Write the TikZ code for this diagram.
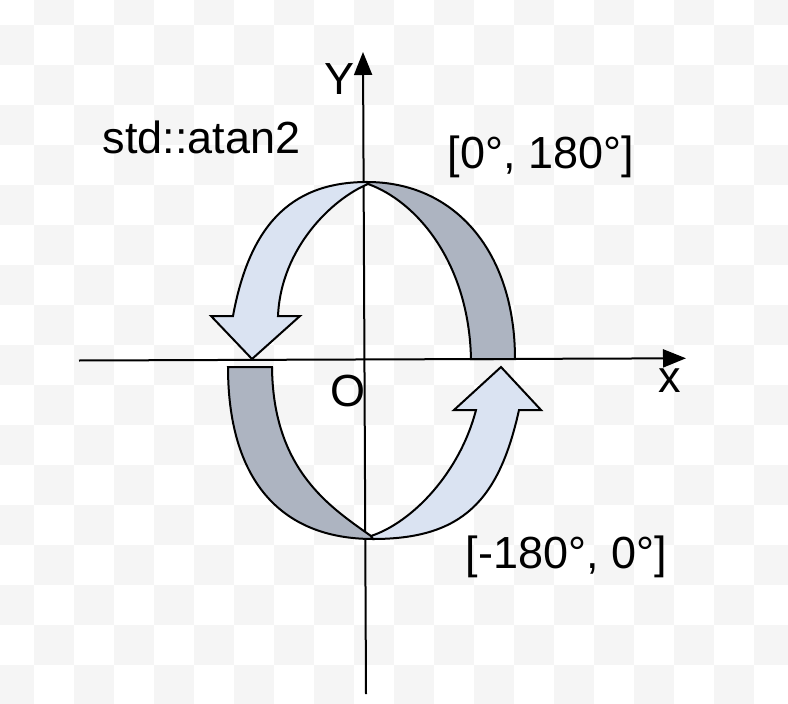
\documentclass[tikz,border=0pt]{standalone}
\usepackage{fontspec}
\setmainfont{Liberation Sans}
\usetikzlibrary{arrows.meta}
\definecolor{checker}{RGB}{245,245,245}
\definecolor{arrowblue}{RGB}{218,227,242}
\definecolor{bandgrey}{RGB}{173,180,193}
\tikzset{
	PixelGrid/.style={x=1pt, y=-1pt},
	Axis/.style={line width=2pt, -{Triangle[length=23pt, width=18pt]}},
	BlueArrow/.style={fill=arrowblue, draw=black, line width=2pt},
	GreyBand/.style={fill=bandgrey, draw=black, line width=2pt},
	Label/.style={inner sep=0pt, anchor=base, font=\fontsize{45}{53}\selectfont}
}

\begin{document}
\begin{tikzpicture}[PixelGrid]
		\useasboundingbox (0,0) rectangle (788,704);

		% Checkerboard background
		\begin{scope}
			\clip (0,0) rectangle (788,704);
			\foreach \r in {0,...,17}
				\foreach \c in {0,...,19}{
					\pgfmathtruncatemacro{\cellodd}{mod(\r+\c,2)}
					\ifnum\cellodd=1
						\fill[checker] ({34.3+40*(\c-1)},{25+40*(\r-1)}) rectangle +(40,40);
					\fi
				}
		\end{scope}

		% Coordinate axes
		\coordinate (xstart) at (79,360.5);
		\coordinate (xend) at (686,358.3);
		\coordinate (ystart) at (366,694);
		\coordinate (yend) at (363,52);
		\draw[Axis] (xstart) -- (xend);
		\draw[Axis] (ystart) -- (yend);

		% Upper half: grey band, then blue arrow
		\draw[GreyBand] (367,182) .. controls (456,182) and (515,253) .. (515,359)
			-- (471,359) .. controls (469,262) and (416,201) .. (368,184) -- cycle;
		\draw[BlueArrow] (367,182) .. controls (288,182) and (249,229) .. (233,316)
			-- (211,316) -- (252,359) -- (300,316) -- (278,316)
			.. controls (281,248) and (332,199) .. (368,184) -- cycle;

		% Lower half: grey band, then blue arrow
		\draw[GreyBand] (228,367) .. controls (228,478) and (279,539) .. (373,539)
			-- (371,536) .. controls (330,507) and (273,470) .. (272,367) -- cycle;
		\draw[BlueArrow] (373,539) .. controls (463,539) and (499,500) .. (519,410)
			-- (541,410) -- (501,367) -- (454,410) -- (476,410)
			.. controls (460,472) and (413,522) .. (371,536) -- cycle;

		% Labels
		\node[Label] (atan) at (201.5,153) {std::atan2};
		\node[Label] (ylabel) at (340,94) {Y};
		\node[Label] (xlabel) at (670,392) {x};
		\node[Label] (origin) at (347.5,406) {O};
		\node[Label] (upperrange) at (541,168) {[0°, 180°]};
		\node[Label] (lowerrange) at (566.5,568) {[-180°, 0°]};
	\end{tikzpicture}
\end{document}
